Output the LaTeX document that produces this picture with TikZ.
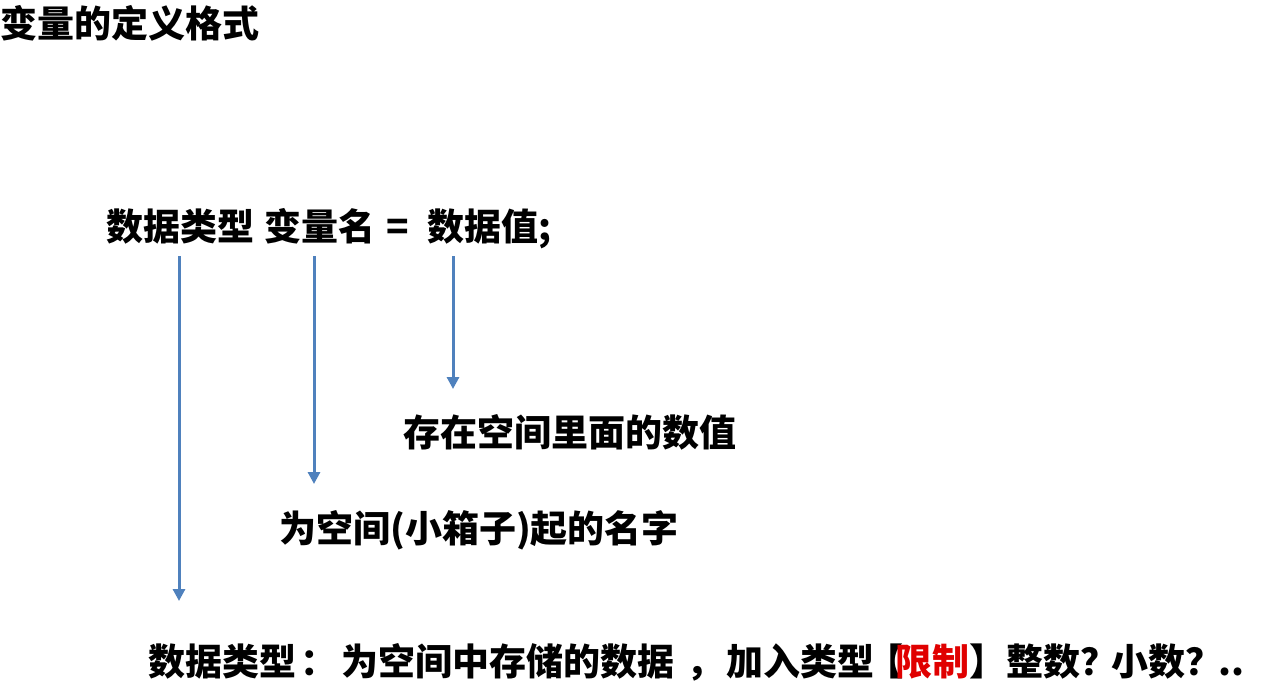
\documentclass[tikz,border=0pt]{standalone}
\usepackage{fontspec}
\newfontfamily\cjk{Noto Sans CJK SC}
\usetikzlibrary{arrows.meta}
\definecolor{arrowblue}{HTML}{4F81BD}
\definecolor{limred}{HTML}{E00000}
\tikzset{
  txt/.style={anchor=west, inner sep=0pt, font=\cjk\bfseries\fontsize{37}{37}\selectfont},
  conn/.style={draw=arrowblue, line width=3pt, -{Triangle[length=12pt,width=12pt]}}
}
\begin{document}
\begin{tikzpicture}[x=1pt,y=-1pt]
\useasboundingbox[fill=white] (0,0) rectangle (1262,685);
\node[txt] (title) at (0,23) {变量的定义格式};
\node[txt] (main) at (106,229) {数据类型\hspace{10pt}变量名\hspace{11pt}=\hspace{19pt}数据值;};
\node[txt] (val) at (403,432) {存在空间里面的数值};
\node[txt] (name) at (279,530) {为空间(小箱子)起的名字};
\node[txt] (type) at (148,662) {数据类型\kern4pt：\kern4pt为空间中存储的数据\kern12pt，\kern3pt加入类型\kern-8pt【\kern-8pt\textcolor{limred}{限制}】整数？\kern-6pt小数？\kern-4pt..};
\coordinate (s1) at (179,256); \coordinate (e1) at (179,601);
\coordinate (s2) at (314,256); \coordinate (e2) at (314,484);
\coordinate (s3) at (453,256); \coordinate (e3) at (453,389);
\draw[conn] (s1) -- (e1);
\draw[conn] (s2) -- (e2);
\draw[conn] (s3) -- (e3);
\end{tikzpicture}
\end{document}
